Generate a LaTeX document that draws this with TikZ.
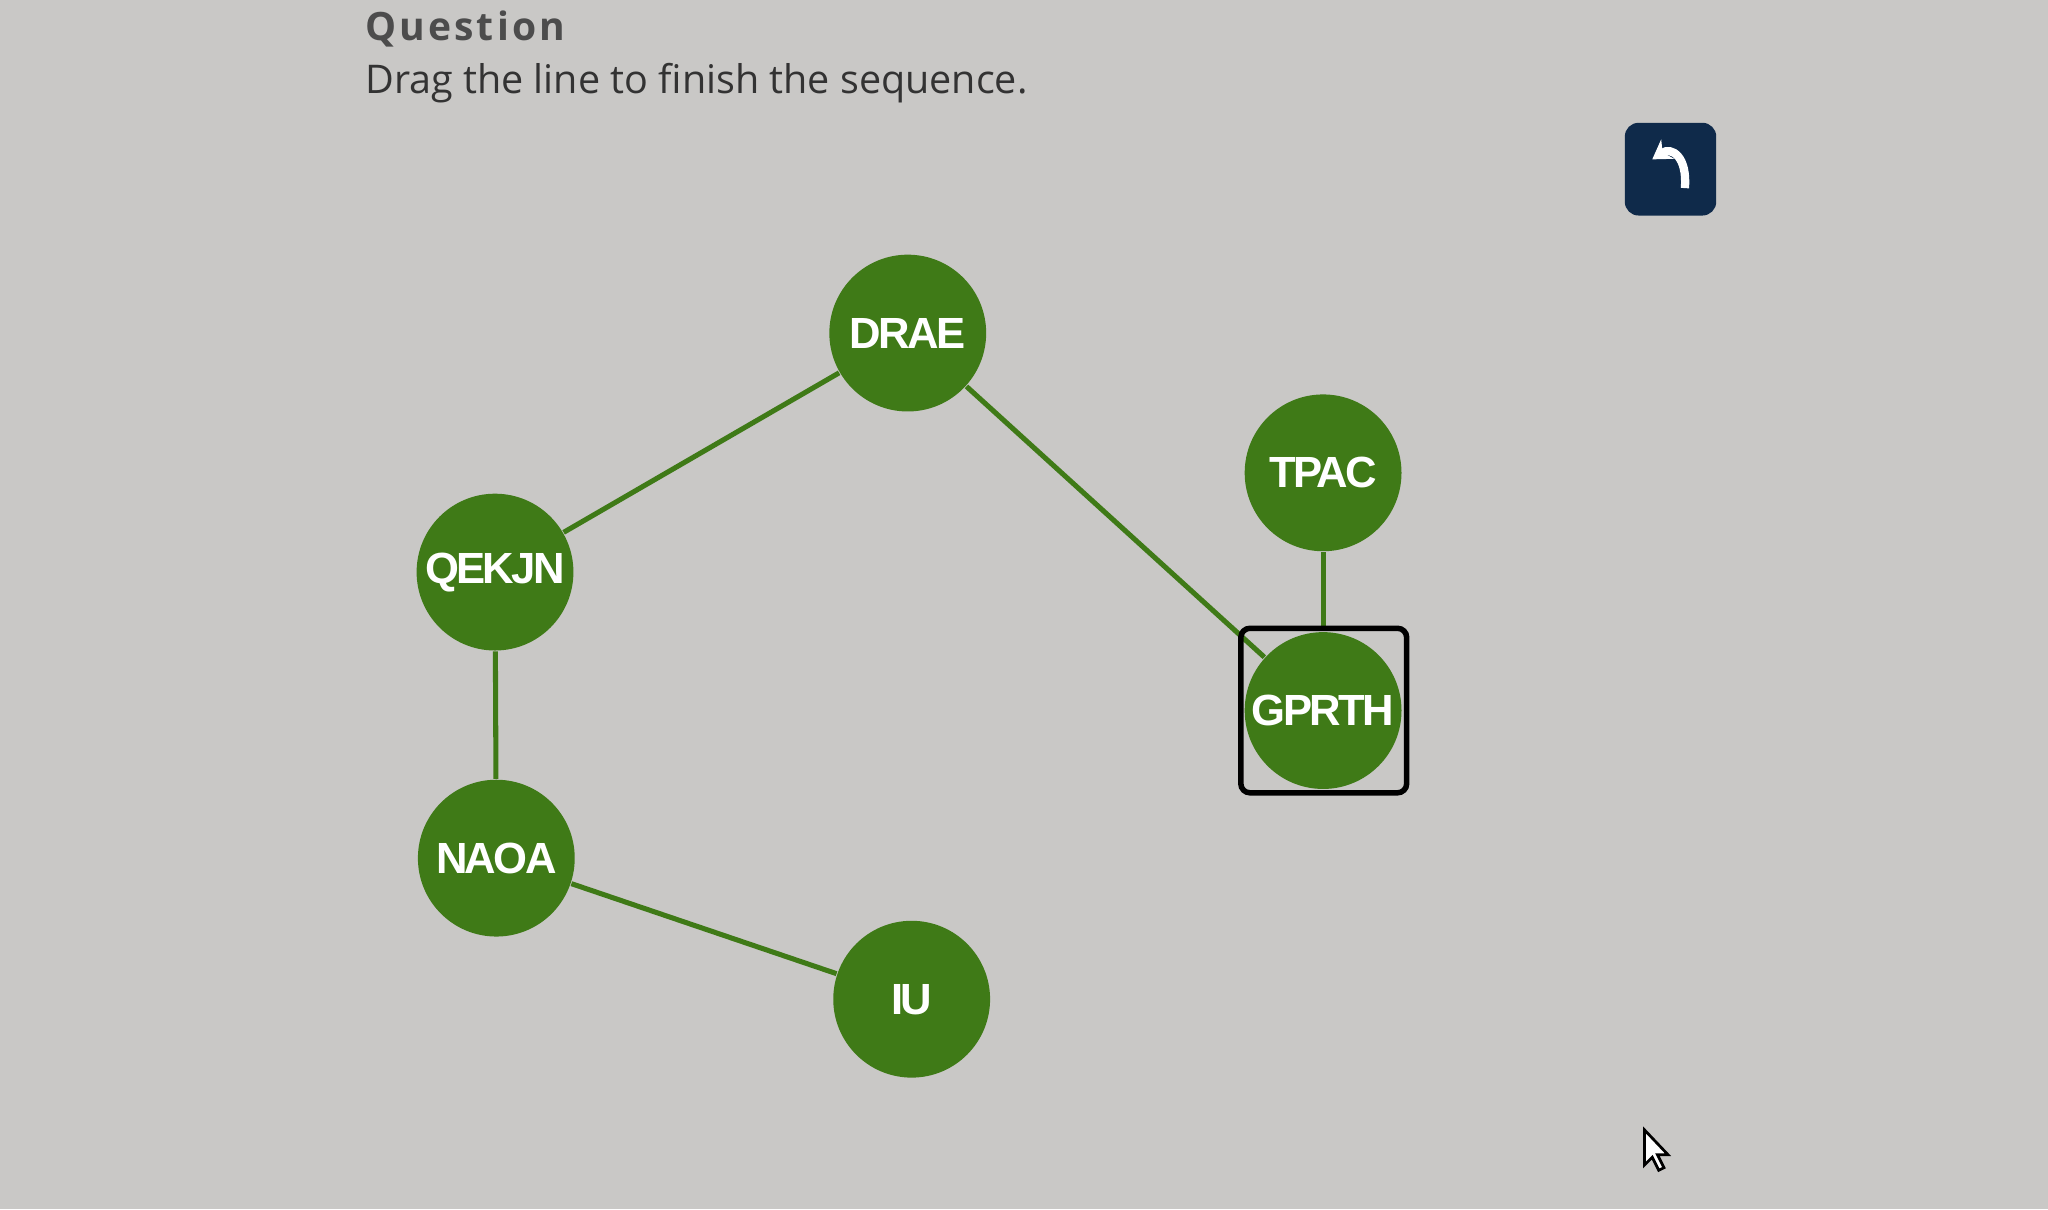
\documentclass[tikz,border=0pt]{standalone}
\usepackage{fontspec}
\usetikzlibrary{arrows.meta}
\setmainfont{Liberation Sans}
\newfontfamily\uifont{Open Sans}
\newfontfamily\qfont[LetterSpace=8]{Open Sans}
\newfontfamily\dotfont[LetterSpace=-6]{Liberation Sans}
\definecolor{bg}{HTML}{C9C8C6}
\definecolor{gr}{HTML}{3F7A17}
\definecolor{navy}{HTML}{0F2A4A}
\begin{document}
\begin{tikzpicture}[x=0.01cm,y=-0.01cm,
  dot/.style={circle,fill=gr,minimum size=1.2cm,inner sep=0pt,text=white,font=\dotfont\bfseries\fontsize{9.5}{9.5}\selectfont},
  link/.style={draw=gr,line width=1.1pt}]
\fill[bg] (0,0) rectangle (1568,926);
\useasboundingbox (0,0) rectangle (1568,926);
\node[anchor=west,inner sep=0pt,text=black!70,font=\qfont\bfseries\fontsize{8.5}{8.5}\selectfont] (q) at (279,22) {Question};
\node[anchor=west,inner sep=0pt,text=black!80,font=\uifont\fontsize{8.6}{8.6}\selectfont] (d) at (279,64) {Drag the line to finish the sequence.};
\node[dot] (drae) at (695,255) {DRAE};
\node[dot] (tpac) at (1013,362) {TPAC};
\node[dot] (qekjn) at (379,438) {QEKJN};
\node[dot] (gprth) at (1013,544) {GPRTH};
\node[dot] (naoa) at (380,657) {NAOA};
\node[dot] (iu) at (698,765) {IU};
\draw[link] (drae) -- (qekjn);
\draw[link] (drae) -- (gprth);
\draw[link] (tpac) -- (gprth);
\draw[link] (qekjn) -- (naoa);
\draw[link] (naoa) -- (iu);
\draw[black,line width=1.2pt,rounded corners=2pt] (950,481) rectangle (1077,607);
\fill[navy,rounded corners=3pt] (1244,94) rectangle (1314,165);
\draw[white,line width=1.8pt,-{Stealth[length=4pt,width=5pt]}] (1290,144) .. controls (1292,120) and (1280,112) .. (1265,122);
\draw[black,fill=white,line width=0.6pt] (1259,865) -- (1259,892) -- (1265,886) -- (1270,896) -- (1274,894) -- (1269,884) -- (1277,884) -- cycle;
\end{tikzpicture}
\end{document}
